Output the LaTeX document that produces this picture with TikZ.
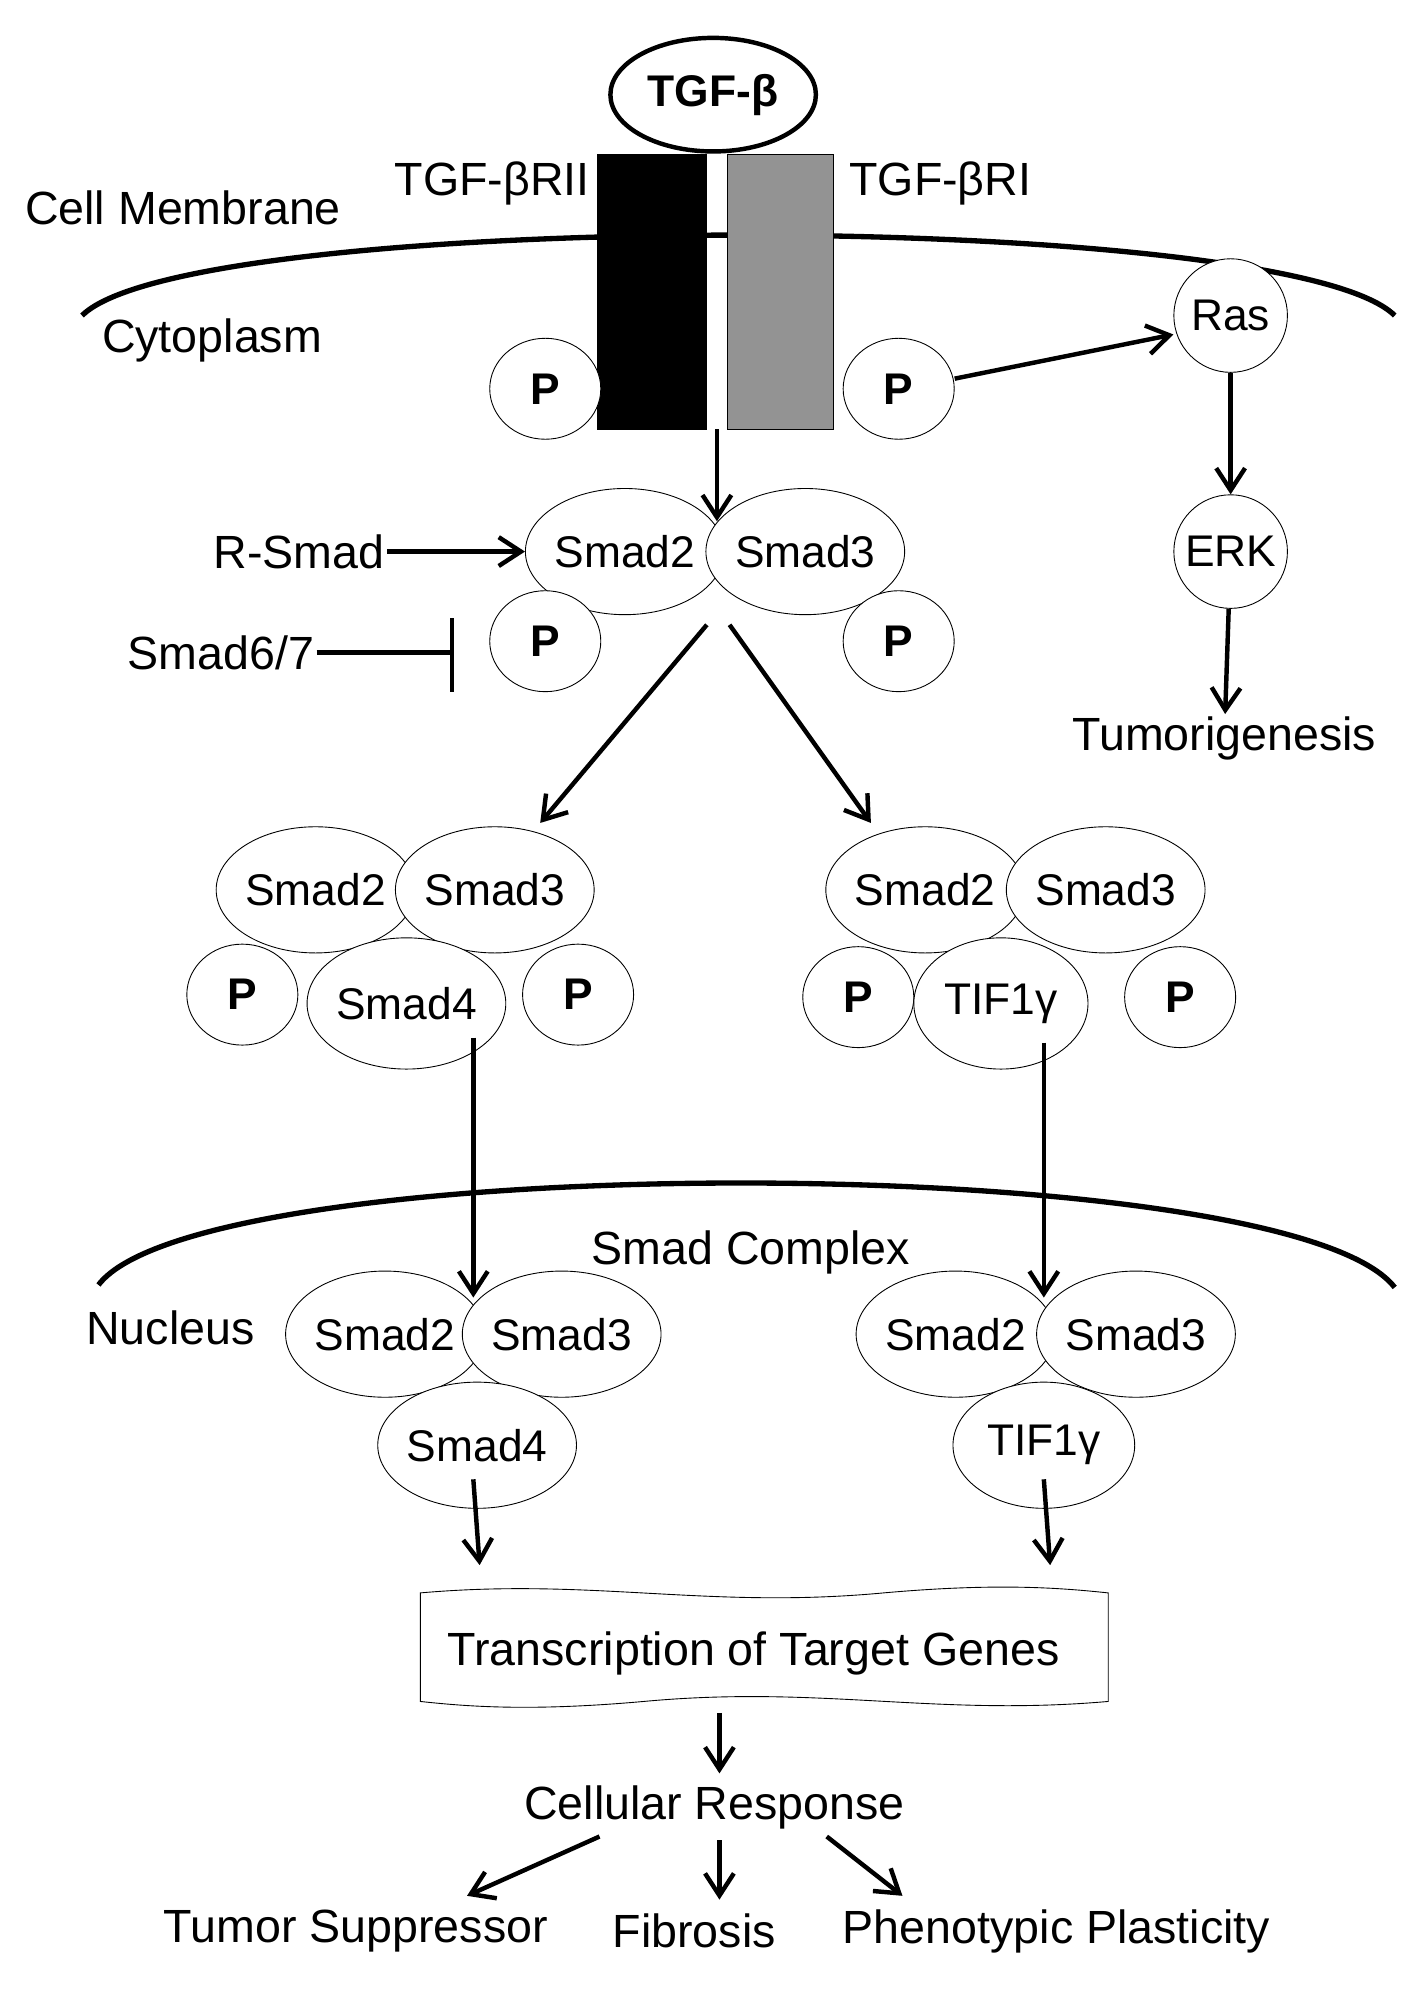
\documentclass[tikz,border=0pt]{standalone}
\usepackage{fontspec}
\setmainfont{Liberation Sans}
\usetikzlibrary{arrows.meta,shapes.geometric}
\begin{document}
\begin{tikzpicture}[x=0.02cm,y=-0.02cm]
  \tikzset{smad/.style = {shape=ellipse,draw,fill=white,inner sep=0pt,minimum width=2.88cm,minimum height=2cm,font=\fontsize{20}{22}\selectfont}}
  \tikzset{phos/.style = {shape=ellipse,draw,fill=white,inner sep=0pt,minimum width=1.76cm,minimum height=1.6cm,font=\fontsize{20}{22}\selectfont\bfseries}}
  \tikzset{kin/.style = {shape=circle,draw,fill=white,inner sep=0pt,minimum size=1.8cm,font=\fontsize{20}{22}\selectfont}}
  \tikzset{lbl/.style = {font=\fontsize{21}{23}\selectfont,inner sep=1pt}}
  \tikzset{edge/.style = {line width=2pt,-{Straight Barb[length=10pt,width=13pt,line width=2pt]}}}
  \useasboundingbox (0,0) rectangle (1130,1579);
  % membranes
  \draw[line width=2.4pt] (65,250) .. controls (150,165) and (1020,165) .. (1105,250);
  \draw[line width=2.4pt] (78,1018) .. controls (160,910) and (1020,910) .. (1105,1020);
  % receptors
  \filldraw[fill=black] (473,122) rectangle (560,340);
  \filldraw[fill=gray!85] (576,122) rectangle (660,340);
  \node[shape=ellipse,draw,line width=2pt,fill=white,minimum width=3cm,minimum height=1.8cm,font=\fontsize{20}{22}\selectfont\bfseries] (tgfb) at (565,75) {TGF-β};
  % labels
  \node[lbl] (mem) at (145,165) {Cell Membrane};
  \node[lbl] (r2) at (390,145) {TGF-βRII};
  \node[lbl] (r1) at (745,145) {TGF-βRI};
  \node[lbl] (cyto) at (168,270) {Cytoplasm};
  \node[phos] (p1) at (432,308) {P};
  \node[phos] (p2) at (712,308) {P};
  \node[kin] (ras) at (975,250) {Ras};
  \node[kin] (erk) at (975,437) {ERK};
  \node[lbl] (tumor) at (970,585) {Tumorigenesis};
  \coordinate (rec) at (568,340);
  % activated smads
  \node[smad] (s2) at (495,437) {Smad2};
  \node[smad] (s3) at (638,437) {Smad3};
  \node[phos] (p3) at (432,508) {P};
  \node[phos] (p4) at (712,508) {P};
  \node[lbl] (rsmad) at (237,437) {R-Smad};
  \node[lbl] (s67) at (175,517) {Smad6/7};
  \coordinate (bar) at (358,517);
  % cytoplasmic complexes
  \node[smad] (a2) at (250,705) {Smad2};
  \node[smad] (a3) at (392,705) {Smad3};
  \node[phos] (pa1) at (192,788) {P};
  \node[phos] (pa2) at (458,788) {P};
  \node[smad,minimum height=2.08cm] (a4) at (322,795) {Smad4};
  \node[smad] (b2) at (733,705) {Smad2};
  \node[smad] (b3) at (876,705) {Smad3};
  \node[phos] (pb1) at (680,790) {P};
  \node[phos] (pb2) at (935,790) {P};
  \node[smad,minimum width=2.76cm,minimum height=2.08cm] (tif) at (793,795) {TIF1γ};
  % nuclear complexes
  \node[lbl] (cplx) at (595,992) {Smad Complex};
  \node[lbl] (nuc) at (135,1052) {Nucleus};
  \node[smad] (c2) at (305,1057) {Smad2};
  \node[smad] (c3) at (445,1057) {Smad3};
  \node[smad] (c4) at (378,1145) {Smad4};
  \node[smad] (d2) at (757,1057) {Smad2};
  \node[smad] (d3) at (900,1057) {Smad3};
  \node[smad] (dt) at (827,1145) {TIF1γ};
  % transcription
  \draw[fill=white] (333,1262) .. controls (470,1250) and (560,1275) .. (700,1262) .. controls (790,1254) and (840,1258) .. (878,1262)
    -- (878,1348) .. controls (740,1360) and (650,1335) .. (510,1348) .. controls (420,1356) and (370,1352) .. (333,1348) -- cycle;
  \node[lbl] (tx) at (597,1310) {Transcription of Target Genes};
  \node[lbl] (resp) at (566,1432) {Cellular Response};
  \node[lbl] (o1) at (282,1530) {Tumor Suppressor};
  \node[lbl] (o2) at (550,1530) {Fibrosis};
  \node[lbl] (o3) at (837,1530) {Phenotypic Plasticity};

  % edges
  \draw[edge] (p2.east) ++(0,-8) -- (ras.west |- 0,265);
  \draw[edge] (ras) -- (erk);
  \draw[edge] (erk) -- (tumor);
  \draw[edge] (rec) -- (568,413);
  \draw[edge] (rsmad) -- (s2.west);
  \draw[line width=2pt] (s67.east) -- (bar);
  \draw[line width=2pt] (358,490) -- (358,548);
  \draw[edge] (560,495) -- (428,652);
  \draw[edge] (578,495) -- (690,652);
  \draw[edge] (375,822) -- (375,1028);
  \draw[edge] (827,826) -- (827,1028);
  \draw[edge] (375,1172) -- (380,1240);
  \draw[edge] (827,1172) -- (832,1240);
  \draw[edge] (570,1357) -- (570,1405);
  \draw[edge] (475,1455) -- (370,1502);
  \draw[edge] (570,1458) -- (570,1505);
  \draw[edge] (655,1455) -- (715,1502);
\end{tikzpicture}
\end{document}
